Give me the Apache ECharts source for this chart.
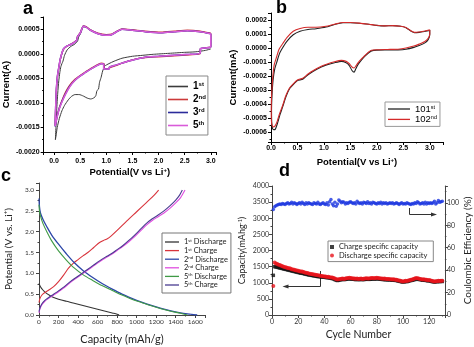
<!DOCTYPE html>
<html>
<head>
<meta charset="utf-8">
<script src="https://cdn.jsdelivr.net/npm/echarts@6/dist/echarts.min.js"></script>
<style>
html, body { margin: 0; padding: 0; background: #fff; }
#chart { width: 474px; height: 347px; }
</style>
</head>
<body>
<div id="chart"></div>
<script>
// ---------- (a) cyclic voltammetry, cycles 1/2/3/5: [potential V, current A] ----------
const cvA1st = [[3.0,0.0001],[2.9,0.00007],[2.7,0.00004],[2.5,0.00003],[2.2,0.00001],[1.9,-0.00001],[1.7,-0.00003],[1.5,-0.00005],[1.3,-0.00009],[1.15,-0.00015],[1.05,-0.0002],[0.97,-0.00025],[0.93,-0.00035],[0.9,-0.00048],[0.87,-0.00058],[0.85,-0.00072],[0.82,-0.00075],[0.8,-0.00085],[0.76,-0.0009],[0.7,-0.00092],[0.63,-0.0009],[0.56,-0.00086],[0.48,-0.00083],[0.4,-0.00083],[0.33,-0.00087],[0.27,-0.00094],[0.2,-0.00105],[0.15,-0.00116],[0.1,-0.00132],[0.06,-0.0015],[0.04,-0.00165],[0.025,-0.00175],[0.035,-0.0015],[0.05,-0.00115],[0.07,-0.0008],[0.09,-0.00055],[0.11,-0.00038],[0.13,-0.00026],[0.15,-0.0002],[0.17,-0.00015],[0.2,-0.00003],[0.25,0.00008],[0.32,0.00015],[0.4,0.0002],[0.45,0.00026],[0.47,0.00034],[0.51,0.00042],[0.56,0.00055],[0.62,0.00054],[0.68,0.00049],[0.84,0.00041],[1.0,0.00038],[1.1,0.00039],[1.2,0.00045],[1.3,0.0005],[1.5,0.00048],[1.75,0.00045],[2.05,0.00043],[2.3,0.00045],[2.55,0.00047],[2.8,0.00045],[3.0,0.00041]];
const cvA2nd = [[3.0,0.00042],[3.0,0.00015],[2.9,0.00012],[2.8,0.0001],[2.8,0.0],[2.6,-0.00002],[2.3,-0.00004],[2.0,-0.00006],[1.8,-0.00007],[1.6,-0.0001],[1.45,-0.00014],[1.3,-0.00019],[1.18,-0.00024],[1.07,-0.00028],[1.05,-0.0003],[0.96,-0.0003],[0.96,-0.00021],[0.9,-0.00019],[0.8,-0.00024],[0.7,-0.0003],[0.6,-0.00037],[0.5,-0.00044],[0.4,-0.00052],[0.3,-0.00064],[0.22,-0.00078],[0.15,-0.00095],[0.1,-0.0011],[0.06,-0.00126],[0.035,-0.00139],[0.02,-0.00146],[0.03,-0.0011],[0.045,-0.00072],[0.065,-0.00046],[0.09,-0.00029],[0.12,-0.00011],[0.18,0.00009],[0.25,0.00016],[0.34,0.00021],[0.43,0.00028],[0.45,0.00036],[0.5,0.00043],[0.56,0.00057],[0.62,0.00055],[0.68,0.0005],[0.84,0.00042],[1.0,0.00039],[1.1,0.0004],[1.2,0.00046],[1.3,0.00051],[1.5,0.00049],[1.75,0.00046],[2.05,0.00044],[2.3,0.00046],[2.55,0.00048],[2.8,0.00046],[3.0,0.00042]];
const cvA3rd = [[3.0,0.00041],[3.0,0.00014],[2.9,0.00012],[2.8,0.0001],[2.8,0.00001],[2.6,-0.00001],[2.3,-0.00003],[2.0,-0.00005],[1.8,-0.00006],[1.6,-0.0001],[1.45,-0.00014],[1.3,-0.00019],[1.18,-0.00023],[1.06,-0.00027],[1.05,-0.00031],[0.95,-0.00031],[0.95,-0.00021],[0.9,-0.0002],[0.8,-0.00025],[0.7,-0.00031],[0.6,-0.00038],[0.5,-0.00045],[0.4,-0.00054],[0.3,-0.00066],[0.22,-0.00081],[0.15,-0.00097],[0.1,-0.00111],[0.06,-0.00127],[0.035,-0.0014],[0.02,-0.00148],[0.03,-0.0011],[0.045,-0.0007],[0.065,-0.00045],[0.09,-0.00028],[0.12,-0.0001],[0.18,0.0001],[0.25,0.00016],[0.34,0.0002],[0.43,0.00027],[0.45,0.00035],[0.5,0.00042],[0.56,0.00056],[0.62,0.00054],[0.68,0.00049],[0.84,0.00041],[1.0,0.00038],[1.1,0.00039],[1.2,0.00045],[1.3,0.0005],[1.5,0.00048],[1.75,0.00045],[2.05,0.00043],[2.3,0.00045],[2.55,0.00047],[2.8,0.00045],[3.0,0.00041]];
const cvA5th = [[3.0,0.00041],[3.0,0.00014],[2.9,0.00012],[2.8,0.0001],[2.8,0.00001],[2.6,-0.00001],[2.3,-0.00003],[2.0,-0.00005],[1.8,-0.00006],[1.6,-0.0001],[1.45,-0.00014],[1.3,-0.00019],[1.18,-0.00023],[1.06,-0.00027],[1.05,-0.00031],[0.95,-0.00031],[0.95,-0.00021],[0.9,-0.0002],[0.8,-0.00025],[0.7,-0.00031],[0.6,-0.00038],[0.5,-0.00045],[0.4,-0.00054],[0.3,-0.00067],[0.22,-0.00082],[0.15,-0.00098],[0.1,-0.00112],[0.06,-0.00128],[0.035,-0.0014],[0.02,-0.00147],[0.03,-0.0011],[0.045,-0.0007],[0.065,-0.00045],[0.09,-0.00028],[0.12,-0.0001],[0.18,0.0001],[0.25,0.00016],[0.34,0.0002],[0.43,0.00027],[0.45,0.00035],[0.5,0.00042],[0.56,0.00056],[0.62,0.00054],[0.68,0.00049],[0.84,0.00041],[1.0,0.00038],[1.1,0.00039],[1.2,0.00045],[1.3,0.0005],[1.5,0.00048],[1.75,0.00045],[2.05,0.00043],[2.3,0.00045],[2.55,0.00047],[2.8,0.00045],[3.0,0.00041]];

// ---------- (b) cyclic voltammetry, cycles 101/102 ----------
const cvB101 = [[3.0,0.000129],[3.0,0.000095],[2.97,0.00006],[2.9,0.000035],[2.8,0.000018],[2.7,0.000005],[2.55,-0.000008],[2.4,-0.000013],[2.2,-0.000014],[2.0,-0.000015],[1.9,-0.00002],[1.84,-0.000035],[1.77,-0.00006],[1.7,-0.00009],[1.64,-0.00012],[1.6,-0.00015],[1.57,-0.000172],[1.53,-0.00016],[1.48,-0.000125],[1.42,-0.000105],[1.33,-0.000095],[1.2,-0.000105],[1.05,-0.00012],[0.95,-0.000135],[0.8,-0.000165],[0.7,-0.00019],[0.6,-0.000222],[0.5,-0.000232],[0.42,-0.00026],[0.35,-0.00029],[0.28,-0.00035],[0.22,-0.00042],[0.17,-0.000475],[0.12,-0.00054],[0.08,-0.00058],[0.05,-0.000582],[0.03,-0.000575],[0.015,-0.00054],[0.01,-0.00045],[0.02,-0.00033],[0.04,-0.000225],[0.07,-0.00015],[0.11,-0.0001],[0.16,-0.00004],[0.2,-0.00001],[0.3,0.000048],[0.42,0.000095],[0.55,0.00012],[0.7,0.000132],[0.85,0.000138],[1.04,0.00015],[1.2,0.000168],[1.36,0.00018],[1.5,0.00018],[1.67,0.000177],[1.85,0.00017],[1.99,0.000162],[2.15,0.000158],[2.3,0.00016],[2.45,0.000155],[2.55,0.000145],[2.65,0.00012],[2.71,0.00011],[2.8,0.000112],[2.9,0.000118],[3.0,0.000125]];
const cvB102 = [[3.0,0.00013],[3.0,0.0001],[2.97,0.00007],[2.9,0.000045],[2.8,0.000028],[2.7,0.000014],[2.55,0.0],[2.4,-0.000008],[2.2,-0.00001],[2.0,-0.000012],[1.9,-0.000016],[1.84,-0.00003],[1.77,-0.000055],[1.7,-0.00008],[1.64,-0.000108],[1.6,-0.00013],[1.57,-0.000142],[1.53,-0.000135],[1.48,-0.000112],[1.42,-0.000095],[1.33,-0.000088],[1.2,-0.000098],[1.05,-0.000115],[0.95,-0.00013],[0.8,-0.00016],[0.7,-0.000185],[0.6,-0.000215],[0.5,-0.000228],[0.42,-0.000255],[0.35,-0.000285],[0.28,-0.00034],[0.22,-0.00041],[0.16,-0.00047],[0.11,-0.00053],[0.07,-0.000558],[0.04,-0.000562],[0.02,-0.000552],[0.008,-0.00052],[0.005,-0.00043],[0.015,-0.00031],[0.035,-0.0002],[0.06,-0.00012],[0.1,-0.00007],[0.15,-0.00001],[0.2,0.00002],[0.3,0.000075],[0.42,0.00012],[0.55,0.00014],[0.7,0.000148],[0.85,0.000148],[1.04,0.000155],[1.2,0.00017],[1.36,0.000182],[1.5,0.000182],[1.67,0.000178],[1.85,0.00017],[1.99,0.000163],[2.15,0.000158],[2.3,0.00016],[2.45,0.000156],[2.55,0.000146],[2.65,0.000122],[2.71,0.000112],[2.8,0.000115],[2.9,0.000122],[3.0,0.00013]];

// ---------- (c) galvanostatic profiles: [capacity mAh/g, potential V] ----------
const dis1st = [[0,0.76],[15,0.68],[40,0.6],[70,0.53],[110,0.47],[150,0.42],[200,0.38],[280,0.33],[350,0.29],[450,0.23],[550,0.17],[650,0.11],[750,0.05],[800,0.02],[820,0.0]];
const chg1st = [[0,0.3],[10,0.4],[30,0.48],[60,0.54],[100,0.6],[150,0.68],[200,0.8],[250,0.95],[300,1.12],[350,1.24],[400,1.33],[450,1.42],[500,1.5],[560,1.62],[620,1.74],[660,1.79],[700,1.83],[740,1.9],[800,2.03],[900,2.26],[1000,2.48],[1100,2.7],[1180,2.88],[1225,3.0]];
const dis2nd = [[0,2.8],[5,2.6],[15,2.45],[40,2.3],[80,2.12],[130,1.92],[200,1.7],[280,1.47],[360,1.26],[450,1.07],[550,0.9],[650,0.75],[750,0.62],[850,0.5],[950,0.4],[1050,0.31],[1150,0.23],[1250,0.16],[1350,0.1],[1450,0.05],[1550,0.02],[1620,0.0]];
const chg2nd = [[0,0.05],[10,0.15],[30,0.25],[60,0.33],[100,0.4],[150,0.48],[200,0.56],[260,0.66],[320,0.78],[380,0.88],[440,0.98],[500,1.08],[560,1.18],[620,1.28],[680,1.37],[740,1.45],[800,1.55],[860,1.65],[920,1.76],[980,1.88],[1040,2.02],[1100,2.16],[1160,2.27],[1220,2.36],[1280,2.45],[1340,2.56],[1400,2.69],[1450,2.82],[1495,3.0]];
const dis5th = [[0,2.65],[5,2.5],[15,2.38],[40,2.2],[80,2.0],[130,1.78],[200,1.54],[280,1.32],[360,1.13],[450,0.97],[550,0.83],[650,0.7],[750,0.59],[850,0.48],[950,0.38],[1050,0.3],[1150,0.22],[1250,0.15],[1350,0.09],[1450,0.04],[1520,0.0]];
const chg5th = [[0,0.08],[10,0.17],[30,0.27],[60,0.35],[100,0.42],[150,0.5],[200,0.58],[260,0.68],[320,0.8],[380,0.9],[440,1.0],[500,1.1],[560,1.2],[620,1.3],[680,1.39],[740,1.47],[800,1.57],[860,1.67],[920,1.79],[980,1.92],[1040,2.06],[1100,2.2],[1160,2.31],[1220,2.4],[1280,2.5],[1340,2.62],[1400,2.76],[1440,2.88],[1468,3.0]];

// ---------- (d) cycling: capacities (mAh/g) and coulombic efficiency (%) per cycle ----------
const chargeCap = [1230,
 1500,1490,1480,1470,1460,1450,1440,1430,1420,
 1410,1400,1390,1380,1370,1360,1350,1340,1330,1320,
 1310,1300,1295,1285,1275,1265,1255,1245,1240,1230,
 1225,1215,1210,1200,1195,1190,1185,1180,1175,1170,
 1165,1160,1155,1150,1140,1130,1120,1100,1080,1070,
 1080,1090,1100,1105,1100,1105,1110,1120,1125,1120,
 1115,1110,1105,1100,1105,1100,1100,1105,1100,1100,
 1105,1110,1110,1105,1110,1115,1120,1115,1120,1125,
 1120,1115,1110,1105,1100,1100,1095,1090,1095,1090,
 1085,1080,1085,1075,1070,1060,1050,1040,1030,1025,
 1030,1040,1035,1050,1060,1070,1080,1090,1100,1120,
 1115,1105,1100,1090,1080,1085,1075,1070,1060,1065,
 1050,1040,1030,1025,1030,1035,1040,1035,1045,1040];
const dischargeCap = [900,
 1630,1600,1580,1560,1550,1530,1510,1500,1480,
 1470,1460,1450,1440,1420,1410,1400,1390,1380,1370,
 1360,1350,1345,1335,1320,1310,1300,1290,1280,1270,
 1265,1255,1245,1240,1230,1225,1215,1210,1200,1195,
 1190,1180,1185,1170,1160,1165,1150,1130,1110,1100,
 1110,1120,1125,1130,1120,1130,1140,1150,1155,1150,
 1140,1135,1130,1125,1130,1120,1125,1130,1120,1125,
 1130,1140,1135,1130,1140,1145,1150,1140,1150,1155,
 1145,1140,1135,1130,1125,1130,1120,1115,1120,1110,
 1105,1100,1110,1095,1090,1080,1070,1060,1050,1040,
 1050,1060,1055,1070,1080,1090,1100,1120,1130,1150,
 1140,1130,1120,1110,1100,1105,1095,1090,1080,1085,
 1070,1060,1050,1040,1045,1050,1060,1055,1065,1060];
const efficiency = [94,
 96.5,97.5,98,98.5,99,98.5,99.5,99,98.5,
 99.5,100,99,99.5,100.5,99,100,99.5,98.5,99.5,
 100,99,100.5,99.5,98.5,100,99,100,99.5,99,
 98.5,100,99.5,99,100.5,99,98.5,99.5,100,99,
 98.5,100,98,101,103,99,97.5,100.5,97,99,
 102.5,101.5,100,101,100.5,99,100,99.5,100.5,101,
 100,99.5,100,99,101.5,100,99.5,100,99,100.5,
 100,99.5,101,99.5,100,99,100.5,100,99.5,99,
 100,99.5,100.5,99,100,99.5,100,99,99.5,100,
 99.5,100,99,99.5,100,99.5,98.5,99.5,100,99,
 99.5,99,100,99.5,99,98.5,99.5,99,100,99.5,
 101,100,99,99.5,100,99,100.5,99,100,99.5,
 100,99.5,100,101.5,99,100,102,100.5,101,101.5];

const withCycle = arr => arr.map((v, i) => [i + 1, v]);

const BOLD = '"Liberation Sans", Arial, sans-serif';
const SOFT = 'Lato, "Open Sans", sans-serif';

// label formatter that only prints values sitting on the given step
function onStep(step, dec) {
  return function (v) {
    const r = v / step;
    return Math.abs(r - Math.round(r)) < 1e-6 ? (Math.abs(v) < step / 1000 ? (0).toFixed(dec) : v.toFixed(dec)) : '';
  };
}

function makeAxis(o) {
  const c = o.color || '#000';
  const ax = {
    type: 'value',
    gridIndex: o.grid,
    min: o.min, max: o.max,
    name: o.name, nameLocation: 'middle', nameGap: o.nameGap,
    nameTextStyle: o.nameStyle,
    axisLine: { show: true, onZero: false, lineStyle: { color: c, width: 1 } },
    axisTick: { show: true, inside: false, length: 3, lineStyle: { color: c, width: 1 } },
    minorTick: { show: true, splitNumber: 2, length: 1.5, lineStyle: { color: c, width: 1 } },
    splitLine: { show: false },
    axisLabel: { margin: o.margin, formatter: o.formatter, color: o.labelColor || c,
      fontSize: o.labelSize, fontFamily: o.labelFont, fontWeight: o.labelWeight || 'normal' }
  };
  if (o.interval !== undefined) ax.interval = o.interval;
  if (o.splitNumber !== undefined) ax.splitNumber = o.splitNumber;
  if (o.position) ax.position = o.position;
  if (o.nameRotate !== undefined) ax.nameRotate = o.nameRotate;
  return ax;
}

const supBold = { fontSize: 6, fontWeight: 'bold', fontFamily: BOLD, verticalAlign: 'top', lineHeight: 6 };
const nameBoldStyle = { fontSize: 9.5, fontWeight: 'bold', fontFamily: BOLD, color: '#000', lineHeight: 11,
  rich: { sup: supBold } };

const ordinal = n => n.replace(/^(\d+)([a-z]+)(.*)$/, '{n|$1}{s|$2}{n|$3}');

const option = {
  animation: false,
  backgroundColor: '#fff',
  grid: [
    { left: 41, top: 17, width: 175, height: 135 },
    { left: 271, top: 13, width: 172, height: 129 },
    { left: 39, top: 183, width: 166, height: 132 },
    { left: 272, top: 186, width: 174, height: 129 }
  ],
  xAxis: [
    makeAxis({ grid: 0, min: -0.2, max: 3.1, splitNumber: 7, formatter: onStep(0.5, 1),
      labelSize: 7, labelFont: BOLD, labelWeight: 'bold', margin: 6,
      name: 'Potential(V vs Li{sup|+})', nameGap: 15, nameStyle: nameBoldStyle }),
    makeAxis({ grid: 1, min: 0, max: 3.25, interval: 0.5, formatter: onStep(0.5, 1),
      labelSize: 7, labelFont: BOLD, labelWeight: 'bold', margin: 3,
      name: 'Potential(V vs Li{sup|+})', nameGap: 15, nameStyle: nameBoldStyle }),
    makeAxis({ grid: 2, min: 0, max: 1700, interval: 200, formatter: onStep(200, 0),
      color: '#444', labelColor: '#333', labelSize: 6.5, labelFont: SOFT, margin: 3,
      name: 'Capacity (mAh/g)', nameGap: 19,
      nameStyle: { fontSize: 11, fontFamily: SOFT, color: '#222' } }),
    makeAxis({ grid: 3, min: 0, max: 132, interval: 20, formatter: onStep(20, 0),
      color: '#444', labelColor: '#333', labelSize: 7, labelFont: SOFT, margin: 3,
      name: 'Cycle Number', nameGap: 14,
      nameStyle: { fontSize: 10.5, fontFamily: SOFT, color: '#222' } })
  ],
  yAxis: [
    makeAxis({ grid: 0, min: -0.002, max: 0.00075, interval: 0.0005, formatter: onStep(0.0005, 4),
      labelSize: 7, labelFont: BOLD, labelWeight: 'bold', margin: 4,
      name: 'Current(A)', nameGap: 30, nameStyle: nameBoldStyle }),
    makeAxis({ grid: 1, min: -0.00067, max: 0.00025, splitNumber: 9, formatter: onStep(0.0001, 4),
      labelSize: 7, labelFont: BOLD, labelWeight: 'bold', margin: 4,
      name: 'Current(mA)', nameGap: 32, nameStyle: nameBoldStyle }),
    makeAxis({ grid: 2, min: 0, max: 3.17, interval: 0.5, formatter: onStep(0.5, 1),
      color: '#444', labelColor: '#333', labelSize: 6.5, labelFont: SOFT, margin: 5,
      name: 'Potential (V vs. Li{sup|+})', nameGap: 24,
      nameStyle: { fontSize: 10, fontFamily: SOFT, color: '#222', lineHeight: 12,
        rich: { sup: { fontSize: 6, fontFamily: SOFT, color: '#222', verticalAlign: 'top', lineHeight: 6 } } } }),
    makeAxis({ grid: 3, min: 0, max: 4000, interval: 500, formatter: onStep(500, 0),
      color: '#444', labelColor: '#333', labelSize: 7, labelFont: SOFT, margin: 3,
      name: 'Capacity(mAhg{sup|-1})', nameGap: 24,
      nameStyle: { fontSize: 9, fontFamily: SOFT, color: '#222', lineHeight: 11,
        rich: { sup: { fontSize: 5.5, fontFamily: SOFT, color: '#222', verticalAlign: 'top', lineHeight: 6 } } } }),
    makeAxis({ grid: 3, position: 'right', min: 0, max: 115, interval: 20, formatter: onStep(20, 0),
      color: '#444', labelColor: '#333', labelSize: 7, labelFont: SOFT, margin: 2,
      name: 'Coulombic Efficiency (%)', nameGap: 15, nameRotate: 90,
      nameStyle: { fontSize: 10, fontFamily: SOFT, color: '#222' } })
  ],
  legend: [
    {
      data: ['1st', '2nd', '3rd', '5th'],
      orient: 'vertical', left: 166, top: 76,
      icon: 'rect', itemWidth: 20, itemHeight: 1.6, itemGap: 2,
      padding: [5, 2, 4, 2],
      borderColor: '#888', borderWidth: 1,
      formatter: ordinal,
      textStyle: { lineHeight: 11, rich: {
        n: { fontSize: 10, fontWeight: 'bold', fontFamily: BOLD, color: '#000', lineHeight: 11 },
        s: { fontSize: 6, fontWeight: 'bold', fontFamily: BOLD, color: '#000', verticalAlign: 'top', lineHeight: 6 } } }
    },
    {
      data: ['101st', '102nd'],
      orient: 'vertical', left: 385, top: 102,
      icon: 'rect', itemWidth: 22, itemHeight: 1.3, itemGap: 0.4,
      padding: [2, 3, 2, 3],
      borderColor: '#999', borderWidth: 1,
      formatter: ordinal,
      textStyle: { lineHeight: 9, rich: {
        n: { fontSize: 9.5, fontFamily: BOLD, color: '#000', lineHeight: 9 },
        s: { fontSize: 5.5, fontFamily: BOLD, color: '#000', verticalAlign: 'top', lineHeight: 5 } } }
    },
    {
      data: ['1st Discharge', '1st Charge', '2nd Discharge', '2nd Charge', '5th Discharge', '5th Charge'],
      orient: 'vertical', left: 162, top: 233,
      icon: 'rect', itemWidth: 14, itemHeight: 1.3, itemGap: 0.6,
      padding: [5, 3, 4, 3],
      borderColor: '#777', borderWidth: 1,
      formatter: ordinal,
      textStyle: { lineHeight: 8, rich: {
        n: { fontSize: 7.5, fontFamily: SOFT, color: '#222', lineHeight: 8 },
        s: { fontSize: 4.5, fontFamily: SOFT, color: '#222', verticalAlign: 'top', lineHeight: 5 } } }
    },
    {
      data: ['Charge specific capacity', 'Discharge specific capacity'],
      orient: 'vertical', left: 328, top: 241,
      itemWidth: 4, itemHeight: 4, itemGap: 0.6,
      padding: [2, 6, 2, 2],
      borderColor: '#888', borderWidth: 1,
      textStyle: { fontSize: 7.5, fontFamily: SOFT, color: '#222', lineHeight: 7 }
    }
  ],
  graphic: [
    { type: 'text', x: 23, y: 9, style: { text: 'a', font: 'bold 18px ' + BOLD, fill: '#000', verticalAlign: 'middle' } },
    { type: 'text', x: 276, y: 8.5, style: { text: 'b', font: 'bold 18px ' + BOLD, fill: '#000', verticalAlign: 'middle' } },
    { type: 'text', x: 1, y: 176, style: { text: 'c', font: 'bold 18px ' + BOLD, fill: '#000', verticalAlign: 'middle' } },
    { type: 'text', x: 279, y: 171.5, style: { text: 'd', font: 'bold 18px ' + BOLD, fill: '#000', verticalAlign: 'middle' } },
    // arrows pointing the data bands to their axes
    { type: 'polyline', shape: { points: [[409.5, 208], [409.5, 214.5], [433, 214.5]] }, style: { stroke: '#333', lineWidth: 1, fill: null } },
    { type: 'polygon', shape: { points: [[437, 214.5], [431, 212.5], [431, 216.5]] }, style: { fill: '#333' } },
    { type: 'polyline', shape: { points: [[320.5, 271], [320.5, 286.5], [287, 286.5]] }, style: { stroke: '#333', lineWidth: 1, fill: null } },
    { type: 'polygon', shape: { points: [[282.5, 286.5], [288.5, 284.5], [288.5, 288.5]] }, style: { fill: '#333' } }
  ],
  series: [
    // (a)
    { name: '1st', type: 'line', xAxisIndex: 0, yAxisIndex: 0, data: cvA1st, symbol: 'none', smooth: 0.2,
      lineStyle: { color: '#3c3c3c', width: 1 }, itemStyle: { color: '#3c3c3c' } },
    { name: '2nd', type: 'line', xAxisIndex: 0, yAxisIndex: 0, data: cvA2nd, symbol: 'none', smooth: 0.2,
      lineStyle: { color: '#cc3a3a', width: 1.3 }, itemStyle: { color: '#cc3a3a' } },
    { name: '3rd', type: 'line', xAxisIndex: 0, yAxisIndex: 0, data: cvA3rd, symbol: 'none', smooth: 0.2,
      lineStyle: { color: '#2b2b9a', width: 1.5 }, itemStyle: { color: '#2b2b9a' } },
    { name: '5th', type: 'line', xAxisIndex: 0, yAxisIndex: 0, data: cvA5th, symbol: 'none', smooth: 0.2,
      lineStyle: { color: '#d95bd9', width: 1.5 }, itemStyle: { color: '#d95bd9' } },
    // (b)
    { name: '101st', type: 'line', xAxisIndex: 1, yAxisIndex: 1, data: cvB101, symbol: 'none', smooth: 0.2,
      lineStyle: { color: '#222', width: 1.1 }, itemStyle: { color: '#222' } },
    { name: '102nd', type: 'line', xAxisIndex: 1, yAxisIndex: 1, data: cvB102, symbol: 'none', smooth: 0.2,
      lineStyle: { color: '#d42a2a', width: 1.1 }, itemStyle: { color: '#d42a2a' } },
    // (c)
    { name: '1st Discharge', type: 'line', xAxisIndex: 2, yAxisIndex: 2, data: dis1st, symbol: 'none', smooth: 0.3,
      lineStyle: { color: '#333', width: 1.1 }, itemStyle: { color: '#333' } },
    { name: '1st Charge', type: 'line', xAxisIndex: 2, yAxisIndex: 2, data: chg1st, symbol: 'none', smooth: 0.3,
      lineStyle: { color: '#d8343c', width: 1.1 }, itemStyle: { color: '#d8343c' } },
    { name: '2nd Discharge', type: 'line', xAxisIndex: 2, yAxisIndex: 2, data: dis2nd, symbol: 'none', smooth: 0.3,
      lineStyle: { color: '#2c46a8', width: 1.3 }, itemStyle: { color: '#2c46a8' } },
    { name: '2nd Charge', type: 'line', xAxisIndex: 2, yAxisIndex: 2, data: chg2nd, symbol: 'none', smooth: 0.3,
      lineStyle: { color: '#e04ee0', width: 1.1 }, itemStyle: { color: '#e04ee0' } },
    { name: '5th Discharge', type: 'line', xAxisIndex: 2, yAxisIndex: 2, data: dis5th, symbol: 'none', smooth: 0.3,
      lineStyle: { color: '#3f9a45', width: 1.1 }, itemStyle: { color: '#3f9a45' } },
    { name: '5th Charge', type: 'line', xAxisIndex: 2, yAxisIndex: 2, data: chg5th, symbol: 'none', smooth: 0.3,
      lineStyle: { color: '#4a3c90', width: 1.1 }, itemStyle: { color: '#4a3c90' } },
    // (d)
    { name: 'Charge specific capacity', type: 'scatter', xAxisIndex: 3, yAxisIndex: 3, data: withCycle(chargeCap),
      symbol: 'rect', symbolSize: 3.5, itemStyle: { color: '#111' } },
    { name: 'Discharge specific capacity', type: 'scatter', xAxisIndex: 3, yAxisIndex: 3, data: withCycle(dischargeCap),
      symbol: 'circle', symbolSize: 4, itemStyle: { color: '#e8141c' } },
    { name: 'Coulombic efficiency', type: 'scatter', xAxisIndex: 3, yAxisIndex: 4, data: withCycle(efficiency),
      symbol: 'circle', symbolSize: 3.5, itemStyle: { color: '#1c36e0' } }
  ]
};

const chart = echarts.init(document.getElementById('chart'));
chart.setOption(option);
</script>
</body>
</html>
